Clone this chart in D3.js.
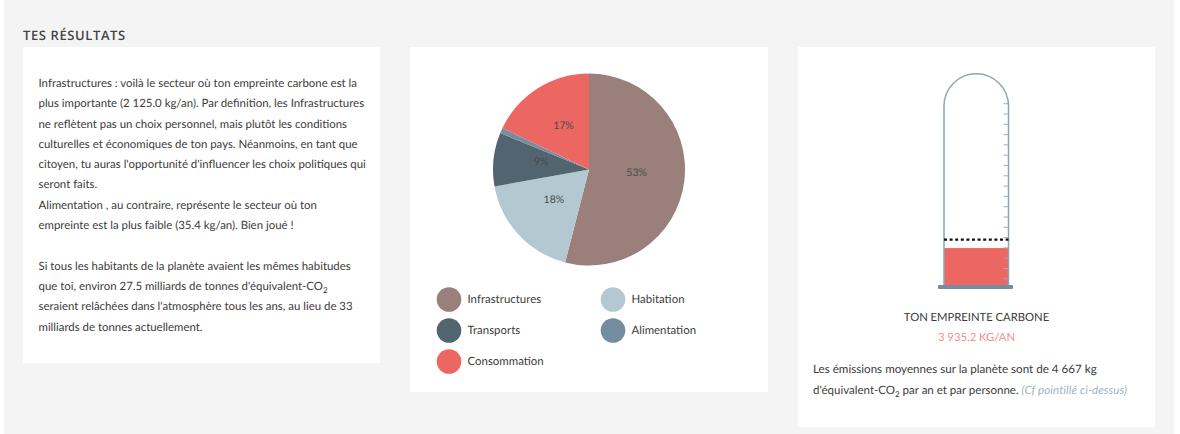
<!DOCTYPE html>
<html lang="fr"><head><meta charset="utf-8">
<script src="https://cdn.jsdelivr.net/npm/d3@7/dist/d3.min.js"></script>
<style>
html,body{margin:0;padding:0;background:#fff}
svg{display:block;font-family:Lato,"Open Sans",sans-serif;text-rendering:geometricPrecision}
text{fill:#3b3b3b;font-size:11.45px}
</style></head><body><svg id="c" width="1180" height="434"></svg>
<script>
const categories=["Infrastructures","Habitation","Transports","Alimentation","Consommation"];
const values=[2125.0,715,356,35.4,703.8];
const colors=["#9a7f7a","#b4c8d2","#52646f","#738f9f","#ec6662"];
const pctLabels=["53%","18%","9%","","17%"];
const thermoTicks=d3.range(1000,19000,1000);
const footprint=3935.2, worldAverage=4667;
const leftLines=[
 ["Infrastructures : voilà le secteur où ton empreinte carbone est la"],
 ["plus importante (2 125.0 kg/an). Par definition, les Infrastructures"],
 ["ne reflètent pas un choix personnel, mais plutôt les conditions"],
 ["culturelles et économiques de ton pays. Néanmoins, en tant que"],
 ["citoyen, tu auras l'opportunité d'influencer les choix politiques qui"],
 ["seront faits."],
 ["Alimentation , au contraire, représente le secteur où ton"],
 ["empreinte est la plus faible (35.4 kg/an). Bien joué !"],
 [],
 ["Si tous les habitants de la planète avaient les mêmes habitudes"],
 ["que toi, environ 27.5 milliards de tonnes d'équivalent-CO","2"],
 ["seraient relâchées dans l'atmosphère tous les ans, au lieu de 33"],
 ["milliards de tonnes actuellement."]];

const svg=d3.select("#c");
svg.append("rect").attr("x",4).attr("y",0).attr("width",1170).attr("height",434).attr("fill","#f4f4f4");
[[23,47,357,316],[410,47,358,345],[798,47,357,380]].forEach(([x,y,w,h])=>
  svg.append("rect").attr("x",x).attr("y",y).attr("width",w).attr("height",h).attr("fill","#fff"));
svg.append("text").attr("x",23).attr("y",40).text("TES RÉSULTATS")
  .style("font-family","'Open Sans'").style("font-size","13px").style("font-weight",600).style("letter-spacing","0.6px").style("fill","#444");

// left paragraph
const lineY=d3.scaleLinear().domain([0,12]).range([87,330.5]);
leftLines.forEach((l,i)=>{
  if(!l.length)return;
  const t=svg.append("text").attr("x",38.5).attr("y",lineY(i)).style("font-size","11.42px");
  t.append("tspan").text(l[0]);
  if(l[1])t.append("tspan").attr("dy",3).style("font-size","8px").text(l[1]);
});

// pie
const pieG=svg.append("g").attr("transform","translate(589,169.5)");
const pie=d3.pie().sort(null).value(d=>d)(values);
const arc=d3.arc().innerRadius(0).outerRadius(96);
pieG.selectAll("path").data(pie).join("path").attr("d",arc).attr("fill",(d,i)=>colors[i]);
pieG.selectAll("text").data(pie).join("text")
  .attr("transform",d=>`translate(${arc.centroid(d)})`)
  .attr("text-anchor","middle").attr("dy","0.05em")
  .style("font-size","10.5px").style("fill","#4a4a4a")
  .text((d,i)=>pctLabels[i]);

// legend
const legendX=d3.scalePoint().domain([0,1]).range([449,613]);
const legendY=d3.scalePoint().domain([0,1,2]).range([299.5,361.5]);
categories.forEach((c,i)=>{
  const x=legendX(i%2),y=legendY(Math.floor(i/2));
  svg.append("circle").attr("cx",x).attr("cy",y).attr("r",12.3).attr("fill",colors[i]);
  svg.append("text").attr("x",x+18.5).attr("y",y+3.5).text(c);
});

// thermometer
const th=svg.append("g");
const y=d3.scaleLinear().domain([0,1000]).range([288.6,278.3]);
const L=944,R=1008.5,rad=(R-L)/2,topY=106;
th.append("rect").attr("x",L).attr("width",R-L).attr("y",y(footprint)).attr("height",y(0)-y(footprint)).attr("fill","#ec6662");
th.append("g").attr("transform",`translate(${R},0)`)
  .call(d3.axisLeft(y).tickValues(thermoTicks).tickSize(5).tickFormat(""))
  .call(g=>g.select(".domain").remove())
  .call(g=>g.selectAll("line").attr("stroke","#9db0bc").attr("stroke-width",1));
th.append("path").attr("d",`M${L},${y(0)}V${topY}A${rad},${rad} 0 0 1 ${R},${topY}V${y(0)}`)
  .attr("fill","none").attr("stroke","#8ea5b3").attr("stroke-width",1.5);
th.append("rect").attr("x",938).attr("y",285).attr("width",75).attr("height",4).attr("rx",1).attr("fill","#738f9f");
th.append("line").attr("x1",L).attr("x2",R).attr("y1",y(worldAverage)-1).attr("y2",y(worldAverage)-1)
  .attr("stroke","#111").attr("stroke-width",2.2).attr("stroke-dasharray","3 2.6");

// right texts
svg.append("text").attr("x",976.5).attr("y",321).attr("text-anchor","middle").style("font-size","11.25px").text("TON EMPREINTE CARBONE");
svg.append("text").attr("x",976.5).attr("y",341).attr("text-anchor","middle").style("fill","#f2908e").style("font-size","11.3px").text("3 935.2 KG/AN");
svg.append("text").attr("x",813).attr("y",373).style("font-size","11.63px").text("Les émissions moyennes sur la planète sont de 4 667 kg");
const t2=svg.append("text").attr("x",813).attr("y",393.5).style("font-size","11.5px");
t2.append("tspan").text("d'équivalent-CO");
t2.append("tspan").attr("dy",3).style("font-size","8px").text("2");
t2.append("tspan").attr("dy",-3).text(" par an et par personne. ");
t2.append("tspan").style("font-style","italic").style("fill","#a3b3bf").style("font-size","11.5px").style("letter-spacing","0.1px").text("(Cf pointillé ci-dessus)");
</script></body></html>
